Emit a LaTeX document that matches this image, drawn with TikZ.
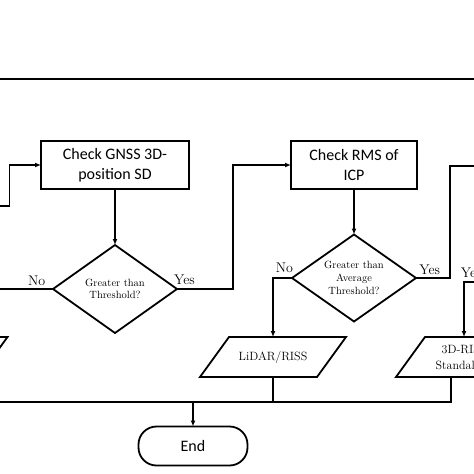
\documentclass[tikz,border=0pt]{standalone}
\usepackage{fontspec}
\newfontfamily\boxfont{Carlito}
\usetikzlibrary{arrows.meta,shapes.geometric}
\begin{document}
\begin{tikzpicture}[x=1pt,y=-1pt,line width=1.8pt,
  proc/.style={draw,rectangle,font=\boxfont\fontsize{16}{20}\selectfont,align=center,inner sep=0pt,outer sep=0pt},
  dec/.style={draw,diamond,inner sep=0pt,outer sep=0pt,aspect=1.4,font=\fontsize{10.5}{12.7}\selectfont,align=center,minimum width=124pt,minimum height=88pt},
  io/.style={inner sep=0pt,outer sep=0pt,font=\fontsize{12}{16}\selectfont,align=center,minimum height=40pt},
  lbl/.style={font=\fontsize{14}{16}\selectfont,inner sep=0pt},
  arr/.style={-{Latex[length=6pt,width=5pt]}},
  term/.style={draw,rounded corners=18pt,minimum width=109pt,minimum height=39pt,inner sep=0pt,outer sep=0pt,font=\boxfont\fontsize{16}{20}\selectfont}
  ]
\useasboundingbox (0,0) rectangle (474,474);
\clip (0,0) rectangle (474,474);
% top line
\coordinate (tl) at (0,79);
\coordinate (tr) at (474,79);
\draw (tl) -- (tr);
% nodes
\node[proc,minimum width=148pt,minimum height=48pt] (b1) at (115,165) {Check GNSS 3D-\\position SD};
\node[proc,minimum width=126pt,minimum height=48pt] (b2) at (354,165) {Check RMS of\\ICP};
\node[dec] (d1) at (115,289) {Greater than\\Threshold?};
\node[dec,minimum height=87pt] (d2) at (354,278) {Greater than\\Average\\Threshold?};
\node[io,minimum width=146pt] (p1) at (273,357) {LiDAR/RISS};
\node[io,minimum width=136pt] (p2) at (464,357) {3D-RISS\\Standalone};
\node[io,minimum width=146pt] (p0) at (-65.5,357) {};
\node[term] (end) at (193,446) {End};
% parallelogram outlines
\foreach \p in {p0,p1,p2}{
  \draw ([xshift=29pt]\p.north west) -- (\p.north east) -- ([xshift=-29pt]\p.south east) -- (\p.south west) -- cycle;
}
% labels
\node[lbl] (no1) at (36.7,281) {No};
\node[lbl] (yes1) at (184.5,280) {Yes};
\node[lbl] (no2) at (284.5,268) {No};
\node[lbl] (yes2) at (429.7,270) {Yes};
\node[lbl,anchor=west] (yes3) at (460,273) {Yes};
% connectors
\coordinate (inL) at (0,206);
\draw[arr] (inL) -- ++(9.5,0) |- (b1.west);
\coordinate (noL) at (0,289);
\draw (d1.west) -- (noL);
\draw[arr] (b1.south) -- (d1.north);
\draw[arr] (d1.east) -- ++(56,0) |- (b2.west);
\draw[arr] (b2.south) -- (d2.north);
\coordinate (outR) at (474,166);
\draw (d2.east) -- ++(34,0) |- (outR);
\draw[arr] (d2.west) -| (p1.north);
\coordinate (inR) at (474,282);
\draw[arr] (inR) -| (p2.north);
\coordinate (busL) at (0,402);
\coordinate (busR) at (451,402);
\draw (busL) -- (busR) -- ([xshift=-13pt]p2.south);
\draw (p1.south) -- (p1.south |- busL);
\draw[arr] (end.north |- busL) -- (end.north);
\end{tikzpicture}
\end{document}
